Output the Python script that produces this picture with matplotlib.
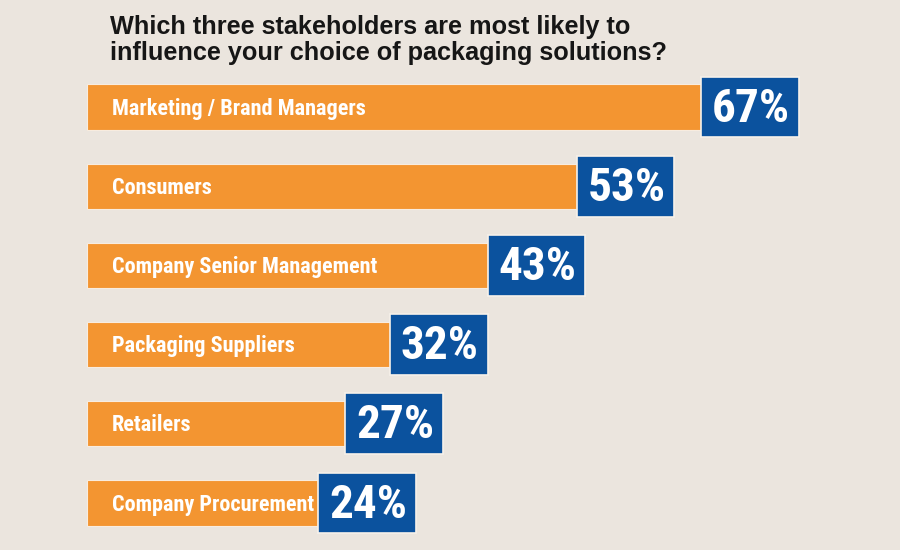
import matplotlib
matplotlib.use('Agg')
import matplotlib.pyplot as plt
from matplotlib.patches import Rectangle

# survey data
labels = ['Marketing / Brand Managers', 'Consumers', 'Company Senior Management',
          'Packaging Suppliers', 'Retailers', 'Company Procurement']
values = [67, 53, 43, 32, 27, 24]
title = ('Which three stakeholders are most likely to\n'
         'influence your choice of packaging solutions?')

C_BG = '#ebe5de'
C_BAR = '#f39531'
C_BOX = '#0b529e'
NARROW = ['Roboto Condensed', 'DejaVu Sans']

fig = plt.figure(figsize=(9, 5.5), dpi=100, facecolor=C_BG)
ax = fig.add_axes([0, 0, 1, 1])
ax.set_facecolor(C_BG)
ax.axis('off')

# pixel mapping: x_px = 87 + 8.9*(v+2), rows at 107 + 79.2*i
ax.set_xlim(-87 / 8.9 - 2, (900 - 87) / 8.9 - 2)
ax.set_ylim((550 - 107) / 79.2, -107 / 79.2)

start = -2
bar_h = 0.57
box_w = 11.0
box_h = 0.77

for i, (lab, v) in enumerate(zip(labels, values)):
    ax.barh(i, v - start, left=start, height=bar_h, color=C_BAR,
            edgecolor='#f8ecdf', linewidth=0.8, zorder=2)
    ax.text(start + 25 / 8.9, i + 0.02, lab, ha='left', va='center',
            fontsize=16, fontweight='bold', color='white',
            family=NARROW, zorder=4)
    ax.add_patch(Rectangle((v, i - box_h / 2), box_w, box_h,
                           facecolor=C_BOX, edgecolor='#f6f1ea',
                           linewidth=1.2, zorder=3))
    ax.text(v + box_w / 2 + 0.1, i + 0.02, f'{v}%', ha='center', va='center',
            fontsize=34, fontweight='bold', color='white',
            family=NARROW, zorder=4)

fig.text(110 / 900, 1 - 15 / 550, title, ha='left', va='top',
         fontsize=18.2, fontweight='bold', color='#161616',
         family=['Liberation Sans', 'DejaVu Sans'], linespacing=1.12)

fig.savefig('out.png', dpi=100, facecolor=C_BG)
